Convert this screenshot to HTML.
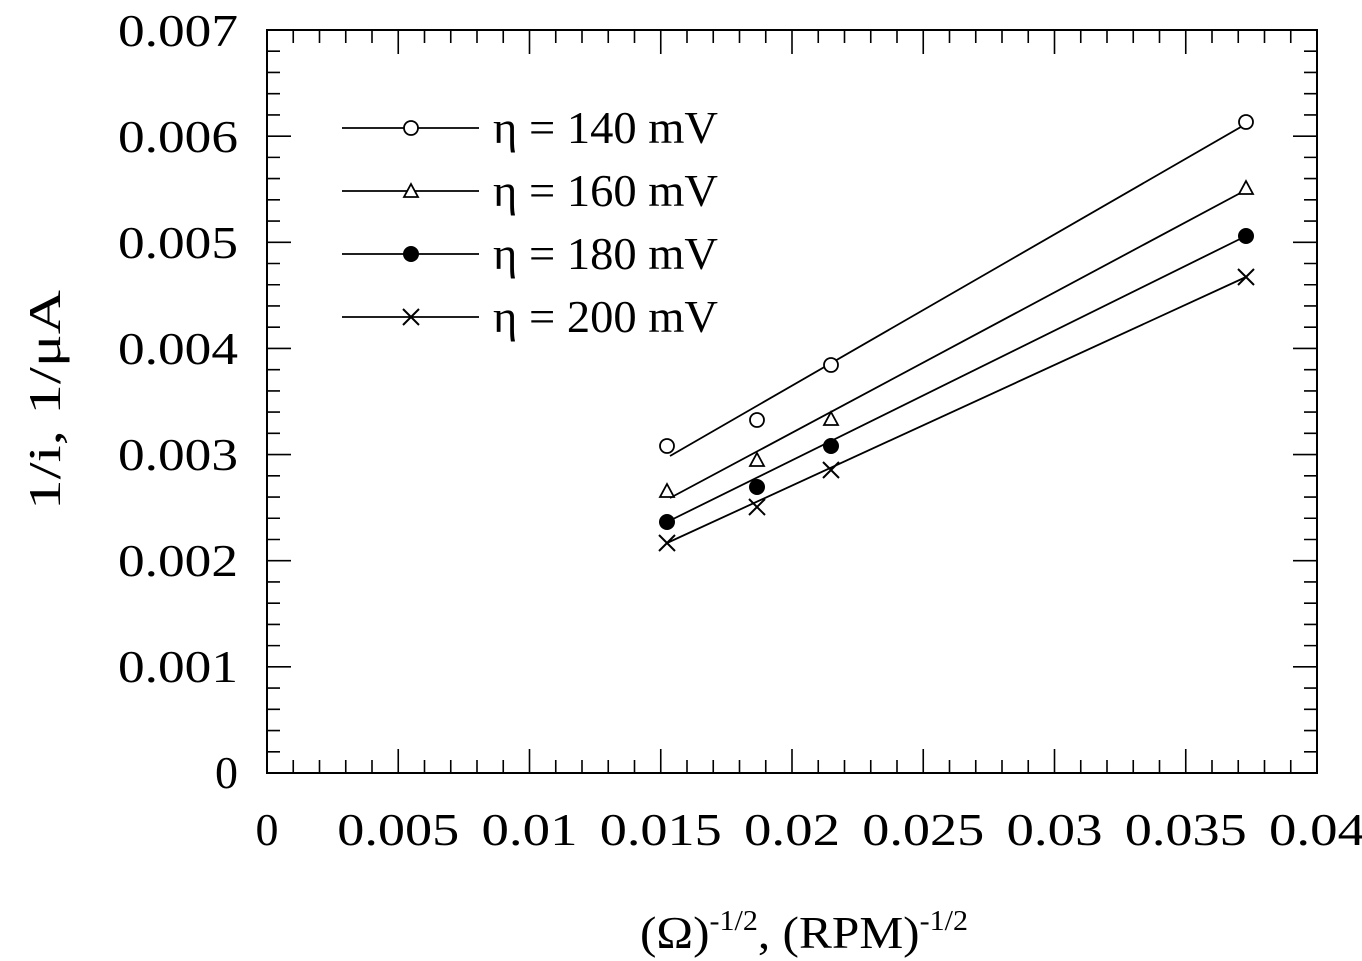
<!DOCTYPE html>
<html><head><meta charset="utf-8"><style>
html,body{margin:0;padding:0;background:#fff;}
svg{display:block;font-family:"Liberation Serif",serif;}
</style></head><body>
<svg width="1362" height="961" viewBox="0 0 1362 961" xmlns="http://www.w3.org/2000/svg">
<rect x="267" y="30" width="1050" height="743" fill="none" stroke="#000" stroke-width="2"/>
<g stroke="#000" stroke-width="1.6" fill="none">
<path d="M293.25 773v-13M319.5 773v-13M345.75 773v-13M372 773v-13M424.5 773v-13M450.75 773v-13M477 773v-13M503.25 773v-13M555.75 773v-13M582 773v-13M608.25 773v-13M634.5 773v-13M687 773v-13M713.25 773v-13M739.5 773v-13M765.75 773v-13M818.25 773v-13M844.5 773v-13M870.75 773v-13M897 773v-13M949.5 773v-13M975.75 773v-13M1002 773v-13M1028.25 773v-13M1080.75 773v-13M1107 773v-13M1133.25 773v-13M1159.5 773v-13M1212 773v-13M1238.25 773v-13M1264.5 773v-13M1290.75 773v-13"/>
<path d="M398.25 773v-24M529.5 773v-24M660.75 773v-24M792 773v-24M923.25 773v-24M1054.5 773v-24M1185.75 773v-24"/>
<path d="M293.25 30v13M319.5 30v13M345.75 30v13M372 30v13M424.5 30v13M450.75 30v13M477 30v13M503.25 30v13M555.75 30v13M582 30v13M608.25 30v13M634.5 30v13M687 30v13M713.25 30v13M739.5 30v13M765.75 30v13M818.25 30v13M844.5 30v13M870.75 30v13M897 30v13M949.5 30v13M975.75 30v13M1002 30v13M1028.25 30v13M1080.75 30v13M1107 30v13M1133.25 30v13M1159.5 30v13M1212 30v13M1238.25 30v13M1264.5 30v13M1290.75 30v13"/>
<path d="M398.25 30v24M529.5 30v24M660.75 30v24M792 30v24M923.25 30v24M1054.5 30v24M1185.75 30v24"/>
<path d="M267 751.77h13M267 730.54h13M267 709.31h13M267 688.09h13M267 645.63h13M267 624.4h13M267 603.17h13M267 581.94h13M267 539.49h13M267 518.26h13M267 497.03h13M267 475.8h13M267 433.34h13M267 412.11h13M267 390.89h13M267 369.66h13M267 327.2h13M267 305.97h13M267 284.74h13M267 263.51h13M267 221.06h13M267 199.83h13M267 178.6h13M267 157.37h13M267 114.91h13M267 93.69h13M267 72.46h13M267 51.23h13"/>
<path d="M267 666.86h24M267 560.71h24M267 454.57h24M267 348.43h24M267 242.29h24M267 136.14h24"/>
<path d="M1317 751.77h-13M1317 730.54h-13M1317 709.31h-13M1317 688.09h-13M1317 645.63h-13M1317 624.4h-13M1317 603.17h-13M1317 581.94h-13M1317 539.49h-13M1317 518.26h-13M1317 497.03h-13M1317 475.8h-13M1317 433.34h-13M1317 412.11h-13M1317 390.89h-13M1317 369.66h-13M1317 327.2h-13M1317 305.97h-13M1317 284.74h-13M1317 263.51h-13M1317 221.06h-13M1317 199.83h-13M1317 178.6h-13M1317 157.37h-13M1317 114.91h-13M1317 93.69h-13M1317 72.46h-13M1317 51.23h-13"/>
<path d="M1317 666.86h-24M1317 560.71h-24M1317 454.57h-24M1317 348.43h-24M1317 242.29h-24M1317 136.14h-24"/>
</g>
<g font-size="46" fill="#000" text-anchor="end">
<text x="238" y="788">0</text>
<text x="238" y="682" textLength="120" lengthAdjust="spacingAndGlyphs">0.001</text>
<text x="238" y="576" textLength="120" lengthAdjust="spacingAndGlyphs">0.002</text>
<text x="238" y="470" textLength="120" lengthAdjust="spacingAndGlyphs">0.003</text>
<text x="238" y="364" textLength="120" lengthAdjust="spacingAndGlyphs">0.004</text>
<text x="238" y="258" textLength="120" lengthAdjust="spacingAndGlyphs">0.005</text>
<text x="238" y="152" textLength="120" lengthAdjust="spacingAndGlyphs">0.006</text>
<text x="238" y="46" textLength="120" lengthAdjust="spacingAndGlyphs">0.007</text>
</g>
<g font-size="46" fill="#000" text-anchor="middle">
<text x="267" y="845">0</text>
<text x="398.25" y="845" textLength="122" lengthAdjust="spacingAndGlyphs">0.005</text>
<text x="529.5" y="845" textLength="96" lengthAdjust="spacingAndGlyphs">0.01</text>
<text x="660.75" y="845" textLength="122" lengthAdjust="spacingAndGlyphs">0.015</text>
<text x="792" y="845" textLength="96" lengthAdjust="spacingAndGlyphs">0.02</text>
<text x="923.25" y="845" textLength="122" lengthAdjust="spacingAndGlyphs">0.025</text>
<text x="1054.5" y="845" textLength="96" lengthAdjust="spacingAndGlyphs">0.03</text>
<text x="1185.75" y="845" textLength="122" lengthAdjust="spacingAndGlyphs">0.035</text>
<text x="1317" y="845" textLength="96" lengthAdjust="spacingAndGlyphs">0.04</text>
</g>
<g stroke="#000" stroke-width="1.8" fill="none">
<line x1="670" y1="456" x2="1246" y2="124"/>
<line x1="670" y1="498" x2="1246" y2="190"/>
<line x1="667" y1="522" x2="1246" y2="236"/>
<line x1="667" y1="543" x2="1246" y2="277"/>
<line x1="342" y1="128" x2="479" y2="128"/>
<line x1="342" y1="191" x2="479" y2="191"/>
<line x1="342" y1="254" x2="479" y2="254"/>
<line x1="342" y1="317" x2="479" y2="317"/>
</g>
<g stroke="#000" stroke-width="1.8" fill="#fff">
<circle cx="667" cy="446" r="7"/><circle cx="757" cy="420" r="7"/><circle cx="831" cy="365" r="7"/><circle cx="1246" cy="122" r="7"/><circle cx="411" cy="128" r="7"/>
<path d="M667 484 L674 497 L660 497 Z"/><path d="M757 453 L764 466 L750 466 Z"/><path d="M831 412 L838 425 L824 425 Z"/><path d="M1246 181 L1253 194 L1239 194 Z"/><path d="M411 184 L418 197 L404 197 Z"/>
</g>
<g fill="#000"><circle cx="667" cy="522" r="8"/><circle cx="757" cy="487" r="8"/><circle cx="831" cy="446" r="8"/><circle cx="1246" cy="236" r="8"/><circle cx="411" cy="254" r="8"/></g>
<g stroke="#000" stroke-width="2">
<path d="M659 535 L675 551 M675 535 L659 551"/><path d="M749 499 L765 515 M765 499 L749 515"/><path d="M823 462 L839 478 M839 462 L823 478"/><path d="M1238 269 L1254 285 M1254 269 L1238 285"/><path d="M403 309 L419 325 M419 309 L403 325"/>
</g>
<g font-size="46" fill="#000">
<text x="493" y="143" textLength="225" lengthAdjust="spacingAndGlyphs">η = 140 mV</text>
<text x="493" y="206" textLength="225" lengthAdjust="spacingAndGlyphs">η = 160 mV</text>
<text x="493" y="269" textLength="225" lengthAdjust="spacingAndGlyphs">η = 180 mV</text>
<text x="493" y="332" textLength="225" lengthAdjust="spacingAndGlyphs">η = 200 mV</text>
</g>
<text x="0" y="0" font-size="46" text-anchor="middle" textLength="220" lengthAdjust="spacingAndGlyphs" transform="translate(60,400) rotate(-90)">1/i, 1/μA</text>
<text x="640" y="948" font-size="46" textLength="328" lengthAdjust="spacingAndGlyphs">(Ω)<tspan font-size="28" dy="-18">-1/2</tspan><tspan dy="18">, (RPM)</tspan><tspan font-size="28" dy="-18">-1/2</tspan></text>
</svg>
</body></html>
